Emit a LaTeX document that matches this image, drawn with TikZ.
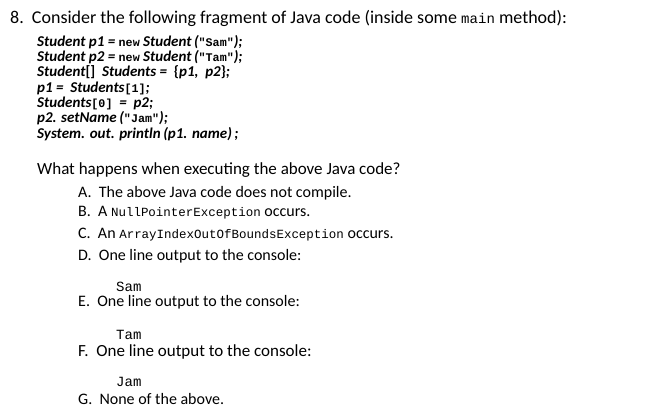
\documentclass[tikz,border=0pt]{standalone}
\usepackage{fontspec}
\setmainfont{Carlito}
\setmonofont{Liberation Mono}[Scale=0.78]
\begin{document}
\begin{tikzpicture}[x=1pt,y=-1pt,
  t/.style={anchor=west,inner sep=0pt,font=\fontsize{16}{18}\selectfont},
  c/.style={anchor=west,inner sep=0pt,font=\fontsize{15}{17}\selectfont\bfseries\itshape},
  o/.style={anchor=west,inner sep=0pt,font=\fontsize{18}{20}\selectfont\ttfamily}]
\useasboundingbox[fill=white] (0,0) rectangle (646,420);
\node[t,font=\fontsize{18}{20}\selectfont] (q) at (10,18) {8.\ \ Consider the following fragment of Java code (inside some \texttt{main} method):};
\node[c] (c1) at (37,42) {Student p1 = {\upshape\ttfamily new} Student\,({\upshape\ttfamily"Sam"});};
\node[c] (c2) at (37,57) {Student p2 = {\upshape\ttfamily new} Student\,({\upshape\ttfamily"Tam"});};
\node[c] (c3) at (37,72) {Student{\upshape[]}\ \ Students = \ {\upshape\{}p1, \ p2{\upshape\}};};
\node[c] (c4) at (37,88) {p1 = \ Students{\upshape\ttfamily[1]};};
\node[c] (c5) at (37,103) {Students{\upshape\ttfamily[0]} \ = \ p2;};
\node[c] (c6) at (37,118) {p2. setName\,({\upshape\ttfamily"Jam"});};
\node[c] (c7) at (37,134) {System. out. println\,(p1. name)\,;};
\node[t,font=\fontsize{17}{19}\selectfont] (w) at (37,170) {What happens when executing the above Java code?};
\node[t] (a) at (78,193) {A.\ \ The above Java code does not compile.};
\node[t] (b) at (78,213) {B.\ \ A \texttt{NullPointerException} occurs.};
\node[t] (cc) at (78,235) {C.\ \ An \texttt{ArrayIndexOutOfBoundsException} occurs.};
\node[t] (d) at (78,256) {D.\ \ One line output to the console:};
\node[o] (s) at (116,287) {Sam};
\node[t] (e) at (78,302) {E.\ \ One line output to the console:};
\node[o] (tm) at (116,335) {Tam};
\node[t,font=\fontsize{17}{19}\selectfont] (f) at (78,352) {F.\ \ One line output to the console:};
\node[o] (j) at (116,382) {Jam};
\node[t] (g) at (78,399) {G.\ \ None of the above.};
\end{tikzpicture}
\end{document}
